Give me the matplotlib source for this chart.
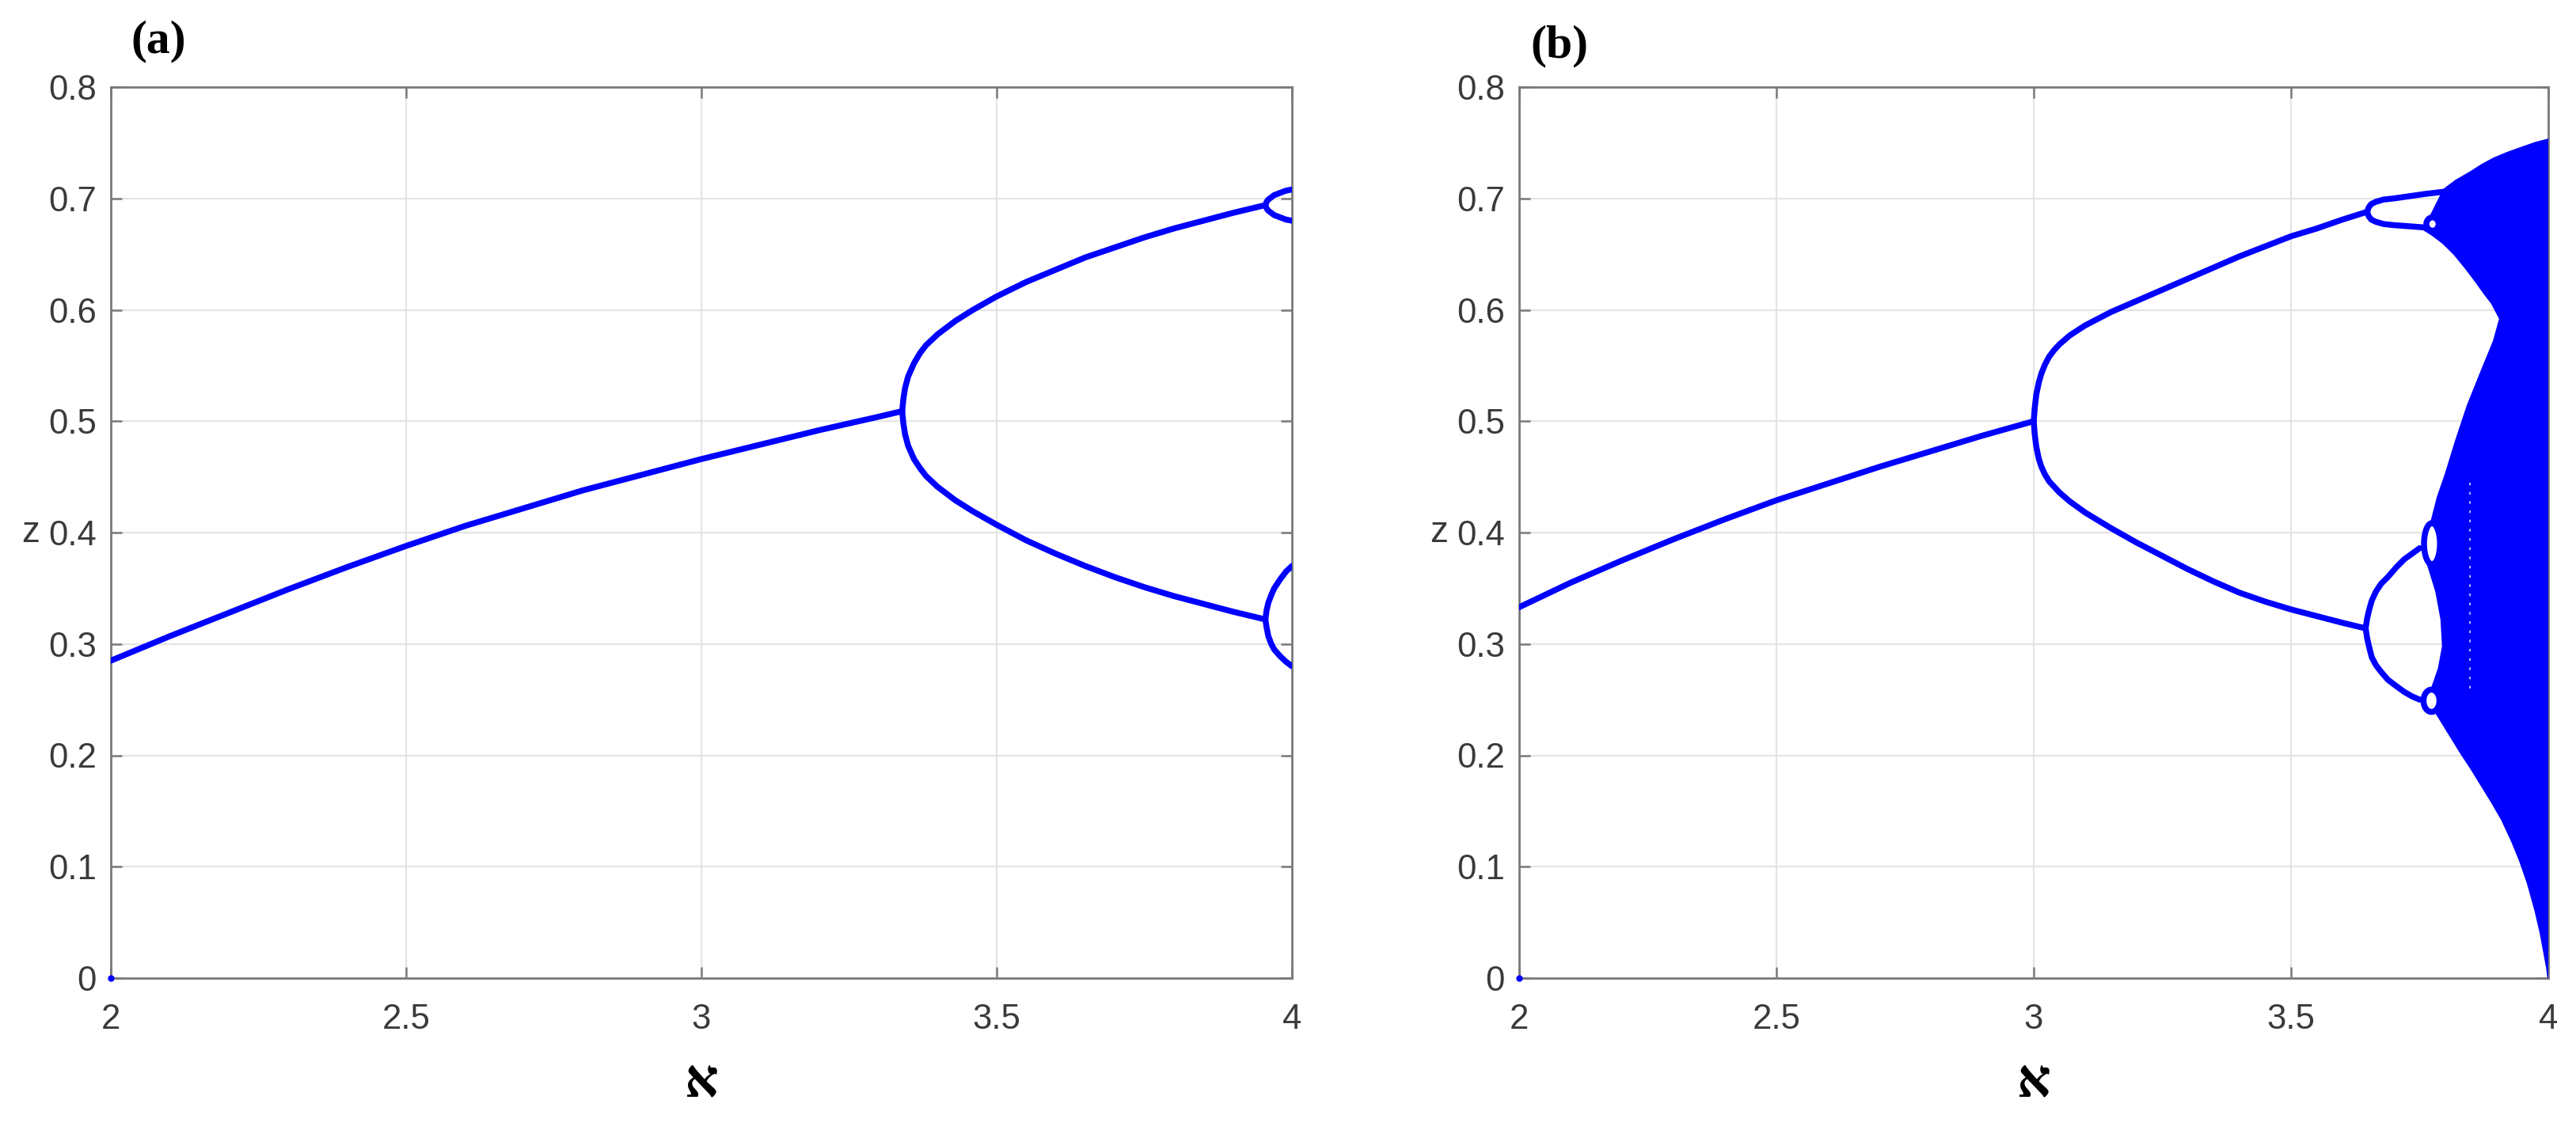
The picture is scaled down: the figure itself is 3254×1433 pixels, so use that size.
import matplotlib
matplotlib.use("Agg")
import matplotlib.pyplot as plt
from matplotlib.patches import Ellipse

# ---------------- data: panel (a) ----------------
a_main_x = [2.0, 2.1, 2.2, 2.3, 2.4, 2.5, 2.6, 2.7, 2.8, 2.9, 3.0, 3.1, 3.2, 3.3, 3.34]
a_main_z = [0.285, 0.307, 0.328, 0.349, 0.369, 0.388, 0.406, 0.422, 0.438, 0.452,
            0.466, 0.479, 0.492, 0.504, 0.509]

a_br_x = [3.34, 3.342, 3.345, 3.35, 3.36, 3.37, 3.38, 3.4, 3.43, 3.46, 3.5, 3.55,
          3.6, 3.65, 3.7, 3.75, 3.8, 3.85, 3.9, 3.955]
a_up_z = [0.509, 0.520, 0.530, 0.540, 0.552, 0.561, 0.568, 0.578, 0.590, 0.600,
          0.612, 0.625, 0.636, 0.647, 0.656, 0.665, 0.673, 0.680, 0.687, 0.694]
a_lo_z = [0.509, 0.498, 0.488, 0.478, 0.466, 0.458, 0.451, 0.441, 0.429, 0.419,
          0.407, 0.393, 0.381, 0.370, 0.360, 0.351, 0.343, 0.336, 0.329, 0.322]

a_sub_x = [3.955, 3.957, 3.96, 3.965, 3.97, 3.98, 3.99, 4.0]
a_uu_z = [0.694, 0.697, 0.699, 0.701, 0.703, 0.705, 0.707, 0.708]
a_ul_z = [0.694, 0.691, 0.689, 0.687, 0.685, 0.683, 0.681, 0.680]
a_lu_z = [0.322, 0.330, 0.337, 0.344, 0.350, 0.358, 0.365, 0.370]
a_ll_z = [0.322, 0.315, 0.307, 0.300, 0.295, 0.289, 0.284, 0.280]

# ---------------- data: panel (b) ----------------
b_main_x = [2.0, 2.1, 2.2, 2.3, 2.4, 2.5, 2.6, 2.7, 2.8, 2.9, 3.0]
b_main_z = [0.333, 0.355, 0.375, 0.394, 0.412, 0.429, 0.444, 0.459, 0.473, 0.487, 0.500]

b_up_x = [3.0, 3.002, 3.005, 3.01, 3.015, 3.022, 3.03, 3.04, 3.05, 3.07, 3.1, 3.15,
          3.2, 3.25, 3.3, 3.35, 3.4, 3.45, 3.5, 3.55, 3.6, 3.648]
b_up_z = [0.500, 0.512, 0.524, 0.535, 0.543, 0.551, 0.558, 0.564, 0.569, 0.577,
          0.586, 0.598, 0.608, 0.618, 0.628, 0.638, 0.648, 0.657, 0.666, 0.673,
          0.681, 0.688]
b_lo_x = [3.0, 3.002, 3.005, 3.01, 3.015, 3.022, 3.03, 3.04, 3.05, 3.07, 3.1, 3.15,
          3.2, 3.25, 3.3, 3.35, 3.4, 3.45, 3.5, 3.55, 3.6, 3.645]
b_lo_z = [0.500, 0.488, 0.477, 0.466, 0.459, 0.452, 0.446, 0.441, 0.436, 0.428,
          0.418, 0.404, 0.391, 0.379, 0.367, 0.356, 0.346, 0.338, 0.331, 0.325,
          0.319, 0.314]

b_uu_x = [3.648, 3.651, 3.656, 3.665, 3.68, 3.7, 3.73, 3.76, 3.797]
b_uu_z = [0.688, 0.692, 0.695, 0.697, 0.699, 0.700, 0.702, 0.704, 0.706]
b_ul_x = [3.648, 3.651, 3.656, 3.665, 3.68, 3.7, 3.73, 3.758]
b_ul_z = [0.688, 0.684, 0.681, 0.679, 0.677, 0.676, 0.675, 0.674]
b_lsub_x = [3.645, 3.648, 3.652, 3.657, 3.665, 3.675, 3.688, 3.705, 3.72, 3.735, 3.75]
b_lu_z = [0.314, 0.323, 0.331, 0.339, 0.347, 0.354, 0.360, 0.369, 0.376, 0.381, 0.386]
b_ll_z = [0.314, 0.305, 0.297, 0.288, 0.281, 0.275, 0.268, 0.262, 0.257, 0.253, 0.250]

# outline of the chaotic region (b), traced clockwise
chaos_x = [3.758, 3.797, 3.82, 3.85, 3.87, 3.894, 3.92, 3.95, 3.975, 4.0,
           4.0, 3.997, 3.993, 3.985, 3.975, 3.96, 3.945, 3.93, 3.91, 3.89,
           3.87, 3.85, 3.83, 3.81, 3.79, 3.775, 3.762,
           3.775, 3.787, 3.795, 3.792, 3.782, 3.768, 3.755,
           3.77, 3.785, 3.80, 3.82, 3.843, 3.87, 3.894, 3.906,
           3.89, 3.875, 3.858, 3.84, 3.817, 3.795, 3.775]
chaos_z = [0.672, 0.708, 0.716, 0.724, 0.730, 0.736, 0.741, 0.746, 0.750, 0.753,
           0.000, 0.010, 0.020, 0.040, 0.060, 0.085, 0.105, 0.122, 0.142, 0.158,
           0.173, 0.188, 0.202, 0.217, 0.232, 0.243, 0.250,
           0.262, 0.278, 0.298, 0.322, 0.347, 0.368, 0.385,
           0.405, 0.432, 0.452, 0.482, 0.514, 0.545, 0.572, 0.592,
           0.606, 0.615, 0.626, 0.637, 0.650, 0.660, 0.667]

# period-8 loops (b)
eye_x = [3.775, 3.774, 3.773]
eye_z = [0.677, 0.390, 0.249]
eye_w = [0.024, 0.031, 0.031]
eye_h = [0.012, 0.037, 0.020]

# periodic window (b)
win_x = [3.848]
win_z0 = [0.26]
win_z1 = [0.45]

origin_x = [2.0]
origin_z = [0.0]

x_ticks = [2, 2.5, 3, 3.5, 4]
x_labels = ["2", "2.5", "3", "3.5", "4"]
y_ticks = [0, 0.1, 0.2, 0.3, 0.4, 0.5, 0.6, 0.7, 0.8]
y_labels = ["0", "0.1", "0.2", "0.3", "0.4", "0.5", "0.6", "0.7", "0.8"]

# ---------------- figure ----------------
W, H = 3255, 1433
fig = plt.figure(figsize=(W / 100, H / 100), dpi=100)

BLUE = (0, 0, 1)
LW = 5.4
SPINE = "#7a7a7a"
TXT = "#3a3a3a"


def px_axes(l, r, t, b):
    return fig.add_axes([l / W, 1 - b / H, (r - l) / W, (b - t) / H])


def style(ax, ylab_x):
    ax.set_xlim(2, 4)
    ax.set_ylim(0, 0.8)
    ax.set_xticks(x_ticks)
    ax.set_xticklabels(x_labels)
    ax.set_yticks(y_ticks)
    ax.set_yticklabels(y_labels)
    ax.grid(True, color="#e4e4e4", lw=1.6)
    ax.set_axisbelow(True)
    for s in ax.spines.values():
        s.set_color(SPINE)
        s.set_linewidth(2.0)
    ax.tick_params(direction="in", length=10, width=1.8, color=SPINE,
                   top=True, right=True, labelsize=31.5, labelcolor=TXT)
    ax.tick_params(axis="x", pad=23)
    ax.tick_params(axis="y", pad=13)
    for lab in ax.get_xticklabels() + ax.get_yticklabels():
        lab.set_fontfamily("Liberation Sans")
    ax.set_ylabel("z", rotation=0, fontsize=33, color=TXT,
                  family="Liberation Sans", va="center", ha="center")
    ax.yaxis.set_label_coords(ylab_x, 0.5)
    ax.set_xlabel("\u05D0", fontsize=48, fontweight="bold", color="black",
                  family=["Liberation Serif", "DejaVu Sans"], va="center")
    ax.xaxis.set_label_coords(0.5, -0.118)


def branch(ax, xs, zs):
    ax.plot(xs, zs, color=BLUE, lw=LW, solid_capstyle="round",
            solid_joinstyle="round", zorder=3)


# panel (a)
axa = px_axes(140, 1632, 110, 1236)
style(axa, -0.068)
branch(axa, a_main_x, a_main_z)
branch(axa, a_br_x, a_up_z)
branch(axa, a_br_x, a_lo_z)
branch(axa, a_sub_x, a_uu_z)
branch(axa, a_sub_x, a_ul_z)
branch(axa, a_sub_x, a_lu_z)
branch(axa, a_sub_x, a_ll_z)
axa.plot(origin_x, origin_z, "o", color=BLUE, ms=5, clip_on=False, zorder=4)

# panel (b)
axb = px_axes(1919, 3219, 110, 1236)
style(axb, -0.078)
branch(axb, b_main_x, b_main_z)
branch(axb, b_up_x, b_up_z)
branch(axb, b_lo_x, b_lo_z)
branch(axb, b_uu_x, b_uu_z)
branch(axb, b_ul_x, b_ul_z)
branch(axb, b_lsub_x, b_lu_z)
branch(axb, b_lsub_x, b_ll_z)
axb.fill(chaos_x, chaos_z, facecolor=BLUE, edgecolor=BLUE, lw=1.5, zorder=3)
for ex, ez, ew, eh in zip(eye_x, eye_z, eye_w, eye_h):
    axb.add_patch(Ellipse((ex, ez), ew, eh, facecolor="white", edgecolor=BLUE,
                          lw=LW, zorder=4))
axb.vlines(win_x, win_z0, win_z1, colors="#d8d8ff", lw=1.2,
           linestyles=(0, (2, 5)), zorder=5)
axb.plot(origin_x, origin_z, "o", color=BLUE, ms=5, clip_on=False, zorder=4)

# panel letters
fig.text(200 / W, 1 - 52 / H, "(a)", fontsize=43, fontweight="bold",
         family="Liberation Serif", ha="center", va="center")
fig.text(1970 / W, 1 - 58 / H, "(b)", fontsize=43, fontweight="bold",
         family="Liberation Serif", ha="center", va="center")

fig.savefig("out.png", dpi=100, facecolor="white")
